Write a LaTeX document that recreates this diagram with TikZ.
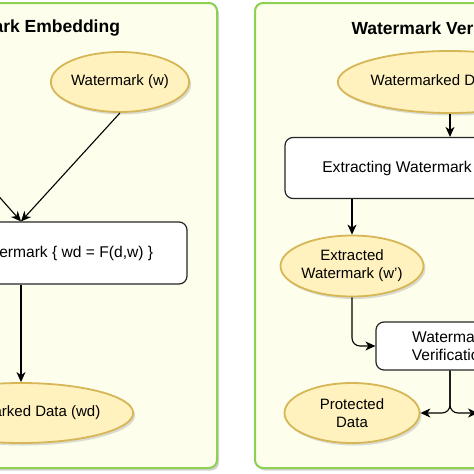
\documentclass[tikz,border=0pt]{standalone}
\usepackage{fontspec}
\setmainfont{Liberation Sans}
\usetikzlibrary{shapes.geometric,arrows.meta,shadows}
\definecolor{panelfill}{HTML}{FDFFEC}
\definecolor{panelline}{HTML}{8CD152}
\definecolor{datafill}{HTML}{FFF2BE}
\definecolor{dataline}{HTML}{D6B656}
\begin{document}
\begin{tikzpicture}
[x=1pt, y=-1pt, inner sep=0pt,
panel/.style={draw=panelline, line width=2pt, fill=panelfill, rounded corners=8pt,
  drop shadow={shadow xshift=2pt, shadow yshift=-2.5pt, fill=black!35, opacity=0.5}},
title/.style={font=\fontsize{17.5}{20}\selectfont\bfseries},
data/.style={ellipse, draw=dataline, line width=1.8pt, fill=datafill, align=center,
  font=\fontsize{15}{18}\selectfont,
  drop shadow={shadow xshift=2pt, shadow yshift=-2.5pt, fill=black!30, opacity=0.45}},
proc/.style={draw=black!85, line width=1.2pt, fill=white, rounded corners=8pt, align=center,
  font=\fontsize{15.6}{18.5}\selectfont},
flow/.style={draw, line width=1.1pt, -{Stealth[length=10pt,width=9pt,inset=3pt]}}]
\useasboundingbox (0,0) rectangle (474,474);

% PANELS
\path[panel] (-175,3) rectangle (217,468);
\path[panel] (255,3) rectangle (645,468);
\node[title] (embtitle) at (25,28) {Watermark Embedding};
\node[title] (vertitle) at (446,28) {Watermark Verification};

% EMBEDDING
\coordinate (dataout) at (-76,112);
\node[data, minimum width=136pt, minimum height=60pt] (wm) at (120,82) {Watermark (w)};
\node[proc, minimum width=332pt, minimum height=62pt] (embed) at (21,253) {Embedding Watermark \{ wd = F(d,w) \}};
\node[data, minimum width=190pt, minimum height=60pt] (wmd) at (21,413) {Watermarked Data (wd)};

\draw [flow] (dataout) -- (embed.north);
\draw [flow] (wm.south) -- (embed.north);
\draw [flow] (embed) -- (wmd);

% VERIFICATION
\node[data, minimum width=184pt, minimum height=62pt] (wdata) at (450,82) {Watermarked Data (wd)};
\node[proc, minimum width=224pt, minimum height=61pt] (extract) at (397,168) {Extracting Watermark};
\node[data, minimum width=135pt, minimum height=61pt] (wext) at (352,266) {Extracted\\Watermark (w')};
\node[proc, minimum width=148pt, minimum height=48pt] (verify) at (450,346) {Watermark\\Verification};
\node[data, minimum width=135pt, minimum height=60pt] (protect) at (352,413) {Protected\\Data};
\coordinate (tamperin) at (478,413);

\draw [flow] (wdata) -- (wdata |- extract.north);
\draw [flow] (wext |- extract.south) -- (wext);
\draw [flow, rounded corners=8pt] (wext) |- (verify);
\draw [flow, rounded corners=8pt] (verify) |- (protect);
\draw [flow, rounded corners=8pt] (verify) |- (tamperin);
\end{tikzpicture}
\end{document}
